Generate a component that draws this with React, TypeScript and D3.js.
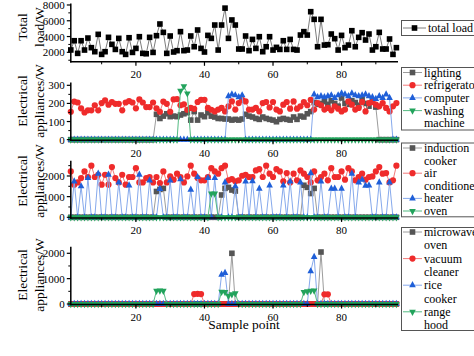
import React from 'react';
import * as d3 from 'd3';

const W = 474;
const H = 356;

// ---------- data (sample points 1..96) ----------
const xTicksMajor = [20, 40, 60, 80];
const xTicksMinor = [10, 30, 50, 70, 90];

const totalLoad = [
  2300, 3470, 1870, 3470, 2290, 3810, 2590, 2080, 4280, 1740,
  2080, 3900, 3010, 2370, 3770, 2080, 1740, 3850, 1990, 2500,
  3980, 1870, 1820, 3900, 1990, 4110, 5590, 4530, 1870, 4070,
  2040, 2210, 4620, 2210, 2290, 4070, 2710, 4830, 2500, 2040,
  4150, 3770, 5460, 2290, 5460, 7600, 3770, 6100, 5460, 2420,
  2420, 4070, 2210, 3640, 2500, 3980, 2080, 2710, 3980, 2290,
  2630, 2370, 3470, 2370, 3640, 2370, 2290, 4190, 4620, 4190,
  7150, 6180, 2710, 6180, 2920, 2970, 4320, 3730, 2290, 4150,
  2590, 2920, 4740, 2710, 3900, 4490, 3560, 4320, 2290, 2710,
  4530, 2420, 2420, 3690, 1740, 2590,
];

const lighting = [
  0, 0, 0, 0, 0, 0, 0, 0, 0, 0,
  0, 0, 0, 0, 0, 0, 0, 0, 0, 0,
  0, 0, 0, 0, 0, 140, 117, 130, 143, 127,
  130, 127, 136, 143, 149, 108, 155, 108, 136, 127,
  149, 130, 125, 117, 117, 114, 114, 108, 112, 108,
  114, 140, 130, 125, 117, 112, 125, 117, 112, 108,
  99, 112, 117, 112, 108, 125, 112, 130, 125, 143,
  155, 205, 195, 200, 210, 195, 215, 200, 185, 230,
  200, 195, 215, 205, 190, 220, 200, 185, 210, 180,
  0, 0, 0, 0, 0, 0,
];

const refrigerator = [
  154, 210, 205, 173, 150, 162, 162, 190, 162, 202,
  217, 193, 208, 198, 198, 162, 205, 213, 205, 173,
  222, 205, 180, 180, 205, 173, 154, 210, 198, 154,
  222, 224, 190, 195, 165, 175, 170, 208, 220, 220,
  175, 165, 156, 166, 175, 156, 184, 211, 166, 202,
  220, 211, 166, 166, 175, 156, 202, 208, 178, 208,
  166, 156, 193, 208, 171, 211, 171, 184, 208, 190,
  220, 166, 202, 190, 166, 175, 162, 184, 171, 156,
  166, 211, 193, 166, 175, 208, 156, 202, 208, 193,
  184, 202, 175, 156, 184, 202,
];

const computer = [
  0, 0, 0, 0, 0, 0, 0, 0, 0, 0,
  0, 0, 0, 0, 0, 0, 0, 0, 0, 0,
  0, 0, 0, 0, 0, 0, 0, 0, 0, 0,
  0, 0, 0, 0, 0, 0, 0, 0, 0, 0,
  0, 0, 0, 0, 0, 0, 240, 250, 245, 235,
  245, 0, 0, 0, 0, 0, 0, 0, 0, 0,
  0, 0, 0, 0, 0, 0, 0, 0, 0, 0,
  0, 250, 235, 240, 235, 240, 245, 230, 245, 255,
  250, 240, 255, 245, 240, 245, 250, 240, 235, 225,
  240, 230, 250, 230, 0, 0,
];

const washingMachine = [
  0, 0, 0, 0, 0, 0, 0, 0, 0, 0,
  0, 0, 0, 0, 0, 0, 0, 0, 0, 0,
  0, 0, 0, 0, 0, 0, 0, 0, 0, 0,
  0, 0, 270, 295, 255, 0, 0, 0, 0, 0,
  0, 0, 0, 0, 0, 0, 0, 0, 0, 0,
  0, 0, 0, 0, 0, 0, 0, 0, 0, 0,
  0, 0, 0, 0, 0, 0, 0, 0, 0, 0,
  0, 0, 0, 0, 0, 0, 0, 0, 0, 0,
  0, 0, 0, 0, 0, 0, 0, 0, 0, 0,
  0, 0, 0, 0, 0, 0,
];

const inductionCooker = [
  0, 0, 0, 0, 0, 0, 0, 0, 0, 0,
  0, 0, 0, 0, 0, 0, 0, 0, 0, 0,
  0, 0, 0, 0, 0, 1250, 1350, 1400, 0, 0,
  0, 0, 0, 0, 0, 0, 0, 0, 0, 0,
  0, 0, 0, 0, 1080, 1400, 1450, 1320, 1270, 0,
  0, 0, 0, 0, 0, 0, 0, 0, 0, 0,
  0, 0, 0, 0, 0, 0, 0, 0, 1550, 1450,
  1150, 1400, 0, 0, 0, 0, 0, 0, 0, 0,
  0, 0, 0, 0, 0, 0, 0, 0, 0, 0,
  0, 0, 0, 0, 0, 0,
];

const airConditioner = [
  2220, 1580, 1690, 1900, 2220, 1950, 2500, 1950, 2060, 1580,
  2060, 1580, 2430, 1900, 1690, 2060, 1580, 1950, 1950, 2380,
  1690, 1690, 1900, 1950, 1690, 1950, 1660, 2220, 1690, 1980,
  1820, 2110, 1950, 1690, 1980, 2500, 2110, 1900, 1790, 1790,
  1950, 2380, 2220, 2110, 2380, 2500, 1790, 1850, 1740, 1790,
  2010, 2060, 1950, 1950, 2270, 2330, 1950, 2500, 2110, 1950,
  2330, 2220, 1740, 2140, 1690, 2110, 1790, 2270, 2110, 1950,
  1690, 2220, 1790, 1950, 2110, 1790, 2380, 1950, 1950, 2220,
  1820, 2380, 2220, 1790, 1950, 2110, 1820, 1950, 1980, 2220,
  2430, 2110, 2140, 1690, 1790, 2500,
];

const heater = [
  0, 1740, 0, 1500, 0, 1900, 0, 0, 2110, 0,
  0, 2060, 0, 0, 1690, 0, 0, 1545, 0, 0,
  2060, 0, 0, 1790, 0, 0, 1370, 0, 0, 1790,
  0, 0, 1850, 0, 0, 1340, 0, 1950, 0, 0,
  1900, 0, 1900, 0, 0, 1690, 0, 0, 1500, 0,
  0, 1740, 0, 1750, 0, 1385, 0, 0, 1545, 0,
  0, 0, 1545, 0, 1740, 0, 0, 1690, 0, 0,
  2140, 0, 0, 1740, 0, 0, 1385, 1385, 0, 1385,
  0, 0, 2110, 0, 1690, 1820, 1530, 1545, 0, 0,
  1690, 0, 0, 1690, 0, 0,
];

const oven = [
  0, 0, 0, 0, 0, 0, 0, 0, 0, 0,
  0, 0, 0, 0, 0, 0, 0, 0, 0, 0,
  0, 0, 0, 0, 0, 0, 0, 0, 0, 0,
  0, 0, 0, 0, 0, 0, 0, 0, 0, 0,
  0, 1150, 1150, 0, 0, 0, 0, 0, 0, 0,
  0, 0, 0, 0, 0, 0, 0, 0, 0, 0,
  0, 0, 0, 0, 0, 0, 0, 0, 0, 0,
  0, 0, 0, 0, 0, 0, 0, 0, 0, 0,
  0, 0, 0, 0, 0, 0, 0, 0, 0, 0,
  0, 0, 0, 0, 0, 0,
];

const microwaveOven = [
  0, 0, 0, 0, 0, 0, 0, 0, 0, 0,
  0, 0, 0, 0, 0, 0, 0, 0, 0, 0,
  0, 0, 0, 0, 0, 0, 0, 0, 0, 0,
  0, 0, 0, 0, 0, 0, 0, 0, 0, 0,
  0, 0, 0, 0, 0, 0, 0, 2000, 0, 0,
  0, 0, 0, 0, 0, 0, 0, 0, 0, 0,
  0, 0, 0, 0, 0, 0, 0, 0, 0, 0,
  0, 0, 0, 2050, 0, 0, 0, 0, 0, 0,
  0, 0, 0, 0, 0, 0, 0, 0, 0, 0,
  0, 0, 0, 0, 0, 0,
];

const vacuumCleaner = [
  0, 0, 0, 0, 0, 0, 0, 0, 0, 0,
  0, 0, 0, 0, 0, 0, 0, 0, 0, 0,
  0, 0, 0, 0, 0, 0, 0, 0, 0, 0,
  0, 0, 0, 0, 0, 0, 390, 400, 390, 0,
  0, 0, 0, 0, 0, 0, 0, 0, 0, 0,
  0, 0, 0, 0, 0, 0, 0, 0, 0, 0,
  0, 0, 0, 0, 0, 0, 0, 0, 0, 0,
  0, 0, 0, 0, 380, 380, 0, 0, 0, 0,
  0, 0, 0, 0, 0, 0, 0, 0, 0, 0,
  0, 0, 0, 0, 0, 0,
];

const riceCooker = [
  0, 0, 0, 0, 0, 0, 0, 0, 0, 0,
  0, 0, 0, 0, 0, 0, 0, 0, 0, 0,
  0, 0, 0, 0, 0, 0, 0, 0, 0, 0,
  0, 0, 0, 0, 0, 0, 0, 0, 0, 0,
  0, 0, 0, 0, 1160, 1230, 0, 0, 0, 0,
  0, 0, 0, 0, 0, 0, 0, 0, 0, 0,
  0, 0, 0, 0, 0, 0, 0, 0, 0, 0,
  1290, 1860, 0, 0, 0, 0, 0, 0, 0, 0,
  0, 0, 0, 0, 0, 0, 0, 0, 0, 0,
  0, 0, 0, 0, 0, 0,
];

const rangeHood = [
  0, 0, 0, 0, 0, 0, 0, 0, 0, 0,
  0, 0, 0, 0, 0, 0, 0, 0, 0, 0,
  0, 0, 0, 0, 0, 520, 530, 520, 0, 0,
  0, 0, 0, 0, 0, 0, 0, 0, 0, 0,
  0, 0, 0, 0, 480, 470, 320, 380, 420, 0,
  0, 0, 0, 0, 0, 0, 0, 0, 0, 0,
  0, 0, 0, 0, 0, 0, 0, 0, 470, 500,
  520, 530, 0, 0, 0, 0, 0, 0, 0, 0,
  0, 0, 0, 0, 0, 0, 0, 0, 0, 0,
  0, 0, 0, 0, 0, 0,
];

// ---------- styling ----------
type Shape = 'square' | 'circle' | 'up' | 'down';
const MARK = { black: '#000000', gray: '#555555', red: '#ef2b2b', blue: '#1f5fd8', green: '#22a35c' };
const LINE = { black: '#7c7c7c', gray: '#9c9c9c', red: '#f27a7a', blue: '#86a9ec', green: '#55bb83' };

interface Series { labels: string[]; values: number[]; shape: Shape; key: keyof typeof MARK; }
interface Panel {
  series: Series[];
  yDomain: [number, number];
  yRange: [number, number];
  yMajor: number[];
  yMinor: number[];
  title: string[];
  titleY: number;
  legend: { top: number; bottom: number; first: number; step: number; lineX: [number, number]; markX: number; textX: number };
}

const FONT = '"Liberation Serif", "Times New Roman", serif';

const panels: Panel[] = [
  {
    series: [{ labels: ['total load'], values: totalLoad, shape: 'square', key: 'black' }],
    yDomain: [800, 8200], yRange: [61.8, 3.4],
    yMajor: [2000, 4000, 6000, 8000], yMinor: [1000, 3000, 5000, 7000],
    title: ['Total', 'load/W'], titleY: 27,
    legend: { top: 20.5, bottom: 35.5, first: 28, step: 12.7, lineX: [403, 426], markX: 414.5, textX: 428 },
  },
  {
    series: [
      { labels: ['lighting'], values: lighting, shape: 'square', key: 'gray' },
      { labels: ['refrigerator'], values: refrigerator, shape: 'circle', key: 'red' },
      { labels: ['computer'], values: computer, shape: 'up', key: 'blue' },
      { labels: ['washing', 'machine'], values: washingMachine, shape: 'down', key: 'green' },
    ],
    yDomain: [-3, 315], yRange: [140.2, 82.6],
    yMajor: [0, 100, 200, 300], yMinor: [50, 150, 250],
    title: ['Electrical', 'appliances/W'], titleY: 101,
    legend: { top: 67.5, bottom: 130, first: 72.5, step: 12.7, lineX: [403, 422], markX: 412.5, textX: 424 },
  },
  {
    series: [
      { labels: ['induction', 'cooker'], values: inductionCooker, shape: 'square', key: 'gray' },
      { labels: ['air', 'conditioner'], values: airConditioner, shape: 'circle', key: 'red' },
      { labels: ['heater'], values: heater, shape: 'up', key: 'blue' },
      { labels: ['oven'], values: oven, shape: 'down', key: 'green' },
    ],
    yDomain: [-30, 2740], yRange: [217.9, 160.7],
    yMajor: [0, 1000, 2000], yMinor: [500, 1500, 2500],
    title: ['Electrical', 'appliances/W'], titleY: 181,
    legend: { top: 143, bottom: 216.8, first: 148, step: 12.6, lineX: [403, 422], markX: 412.5, textX: 424 },
  },
  {
    series: [
      { labels: ['microwave', 'oven'], values: microwaveOven, shape: 'square', key: 'gray' },
      { labels: ['vacuum', 'cleaner'], values: vacuumCleaner, shape: 'circle', key: 'red' },
      { labels: ['rice', 'cooker'], values: riceCooker, shape: 'up', key: 'blue' },
      { labels: ['range', 'hood'], values: rangeHood, shape: 'down', key: 'green' },
    ],
    yDomain: [-20, 2260], yRange: [304.5, 246.7],
    yMajor: [0, 1000, 2000], yMinor: [500, 1500],
    title: ['Electrical', 'appliances/W'], titleY: 275,
    legend: { top: 227.5, bottom: 330.5, first: 232, step: 13.3, lineX: [403, 422], markX: 412.5, textX: 424 },
  },
];

const x = d3.scaleLinear().domain([1, 96]).range([70.8, 396.4]);
const AXIS_X0 = 70.8;
const AXIS_X1 = 398;

function Marker({ shape, cx, cy, color }: { shape: Shape; cx: number; cy: number; color: string }) {
  if (shape === 'square') return <rect x={cx - 2.8} y={cy - 2.8} width={5.6} height={5.6} fill={color} />;
  if (shape === 'circle') return <circle cx={cx} cy={cy} r={3.1} fill={color} />;
  const w = 6.6, h = 6.2;
  if (shape === 'up')
    return <path d={`M${cx},${cy - (2 * h) / 3}L${cx - w / 2},${cy + h / 3}L${cx + w / 2},${cy + h / 3}Z`} fill={color} />;
  return <path d={`M${cx},${cy + (2 * h) / 3}L${cx - w / 2},${cy - h / 3}L${cx + w / 2},${cy - h / 3}Z`} fill={color} />;
}

function PanelView({ p, idx }: { p: Panel; idx: number }) {
  const y = d3.scaleLinear().domain(p.yDomain).range(p.yRange);
  const axisY = p.yRange[0];
  const line = d3.line<number>().x((_, i) => x(i + 1)).y((d) => y(d));
  const lg = p.legend;
  let row = 0;
  return (
    <g>
      {p.series.map((s, si) => (
        <g key={si}>
          <path d={line(s.values) || ''} fill="none" stroke={LINE[s.key]} strokeWidth={1} />
          {s.values.map((v, i) => (
            <Marker key={i} shape={s.shape} cx={x(i + 1)} cy={y(v)} color={MARK[s.key]} />
          ))}
        </g>
      ))}
      {/* axes */}
      <line x1={AXIS_X0} x2={AXIS_X0} y1={p.yRange[1]} y2={axisY + 0.75} stroke="#000" strokeWidth={1.5} />
      <line x1={AXIS_X0 - 0.75} x2={AXIS_X1} y1={axisY} y2={axisY} stroke="#000" strokeWidth={1.5} />
      {p.yMajor.map((t) => (
        <g key={'ym' + t}>
          <line x1={AXIS_X0 - 4} x2={AXIS_X0} y1={y(t)} y2={y(t)} stroke="#000" strokeWidth={1.2} />
          <text x={AXIS_X0 - 6} y={y(t)} textAnchor="end" dominantBaseline="central" fontSize={11} fontFamily={FONT}>
            {t}
          </text>
        </g>
      ))}
      {p.yMinor.map((t) => (
        <line key={'yn' + t} x1={AXIS_X0 - 2.5} x2={AXIS_X0} y1={y(t)} y2={y(t)} stroke="#000" strokeWidth={1} />
      ))}
      {xTicksMajor.map((t) => (
        <g key={'xm' + t}>
          <line x1={x(t)} x2={x(t)} y1={axisY} y2={axisY + 4} stroke="#000" strokeWidth={1.2} />
          <text x={x(t)} y={axisY + 12.5} textAnchor="middle" dominantBaseline="central" fontSize={11} fontFamily={FONT}>
            {t}
          </text>
        </g>
      ))}
      {xTicksMinor.map((t) => (
        <line key={'xn' + t} x1={x(t)} x2={x(t)} y1={axisY} y2={axisY + 2.5} stroke="#000" strokeWidth={1} />
      ))}
      {/* y title */}
      {p.title.map((tt, ti) => (
        <text
          key={'t' + ti}
          transform={`translate(${22 + ti * 17},${p.titleY}) rotate(-90)`}
          textAnchor="middle"
          dominantBaseline="central"
          fontSize={13.5}
          fontFamily={FONT}
        >
          {tt}
        </text>
      ))}
      {/* legend */}
      <rect x={401.5} y={lg.top} width={90} height={lg.bottom - lg.top} fill="#fff" stroke="#555" strokeWidth={1} />
      {p.series.map((s, si) => {
        const items = s.labels.map((lab, li) => {
          const yy = lg.first + (row + li) * lg.step;
          return (
            <g key={li}>
              {li === 0 && (
                <>
                  <line x1={lg.lineX[0]} x2={lg.lineX[1]} y1={yy} y2={yy} stroke={LINE[s.key]} strokeWidth={1} />
                  <Marker shape={s.shape} cx={lg.markX} cy={yy} color={MARK[s.key]} />
                </>
              )}
              <text x={lg.textX} y={yy} dominantBaseline="central" fontSize={12} fontFamily={FONT}>
                {lab}
              </text>
            </g>
          );
        });
        row += s.labels.length;
        return <g key={'lg' + si}>{items}</g>;
      })}
    </g>
  );
}

export default function App() {
  return (
    <svg
      width={W}
      height={H}
      viewBox={`0 0 ${W} ${H}`}
      style={{ position: 'absolute', left: 0, top: 0, background: '#fff' }}
    >
      <rect width={W} height={H} fill="#fff" />
      {panels.map((p, i) => (
        <PanelView key={i} p={p} idx={i} />
      ))}
      <text x={244} y={324.5} textAnchor="middle" dominantBaseline="central" fontSize={13.5} fontFamily={FONT}>
        Sample point
      </text>
    </svg>
  );
}
